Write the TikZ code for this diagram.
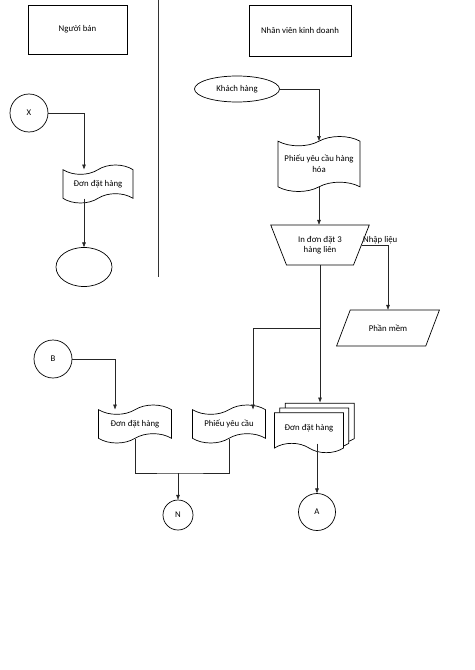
\documentclass[tikz,border=0pt]{standalone}
\usepackage{fontspec}
\setmainfont{Carlito}
\usetikzlibrary{arrows.meta,shapes.geometric,shapes.symbols,shadows}

\begin{document}
\begin{tikzpicture}[x=0.03cm,y=-0.03cm,
  font=\fontsize{7.5}{9}\selectfont,
  >={Triangle[length=4pt,width=3pt]},
  lanebox/.style={draw,line width=0.6pt,minimum width=29.7mm,minimum height=14.7mm},
  conn/.style={circle,draw,line width=0.6pt,minimum size=11.4mm,inner sep=0pt},
  tapedoc/.style={tape,draw,line width=0.6pt,fill=white,align=center,
    minimum width=21.9mm,minimum height=11.4mm,tape bend height=2.8mm},
  flow/.style={line width=0.4pt,black!85}]
\useasboundingbox (0,0) rectangle (474,670);
\draw[line width=0.5pt,black!80] (158,0) -- (158,277);
% lanes
\node[lanebox] (seller) at (77.5,29.5) {Người bán};
\node[lanebox,minimum width=30.6mm,minimum height=15.3mm] (staff) at (300,30.5) {Nhân viên kinh doanh};
% left lane
\node[conn] (xconn) at (29,113) {X};
\node[tapedoc,minimum width=21mm] (order1) at (98,184) {Đơn đặt hàng};
\node[ellipse,draw,line width=0.6pt,minimum width=16.8mm,minimum height=11.7mm,inner sep=0pt] (endstate) at (84,267) {};
% right lane
\node[ellipse,draw,line width=0.6pt,minimum width=25.5mm,minimum height=7.8mm,inner sep=0pt] (customer) at (237,89) {Khách hàng};
\node[tapedoc,minimum width=24.6mm,minimum height=16.5mm] (request) at (319,164) {Phiếu yêu cầu hàng\\hóa};
\node[trapezium,draw,line width=0.6pt,fill=white,align=center,trapezium left angle=65,trapezium right angle=65,
  shape border rotate=180,trapezium stretches=true,minimum width=29.7mm,minimum height=12mm] (printing) at (320,245) {In đơn đặt 3\\hàng liên};
\node[trapezium,draw,line width=0.6pt,trapezium left angle=60,trapezium right angle=120,
  trapezium stretches=true,minimum width=30.9mm,minimum height=10.8mm] (software) at (388,328) {Phần mềm};
% bottom
\node[conn] (bconn) at (53,359) {B};
\node[tapedoc] (order2) at (135,424) {Đơn đặt hàng};
\node[tapedoc] (request2) at (229,424) {Phiếu yêu cầu};
\node[conn,minimum size=9mm] (nconn) at (178,515) {N};
\node[tapedoc,tape bend top=none,tape bend bottom=out and in,minimum width=20.7mm,minimum height=12mm,
  double copy shadow={shadow xshift=1.6mm,shadow yshift=1.4mm}] (orders) at (309,428) {Đơn đặt hàng};
\node[conn,minimum size=11.1mm] (aconn) at (317,512) {A};
\coordinate (mtop) at ([yshift=3mm]orders.north);
\coordinate (split) at (printing.south |- software.west);
\coordinate (join) at (178,473);
% connectors
\draw[flow,->] (xconn.east) -| (order1.north -| endstate.north);
\draw[flow,->] (order1.south -| endstate.north) -- (endstate.north);
\draw[flow,->] (customer.east) -| (request.north);
\draw[flow,->] (request.south) -- (request.south |- printing.north);
\draw[flow,->] (printing.east) -| node[pos=0,anchor=south west,inner sep=1pt,black]{Nhập liệu} (software.north);
\draw[flow,->] (printing.south) -- (printing.south |- mtop);
\draw[flow,->] (split) -| ([xshift=7.2mm]request2.north);
\draw[flow,->] (bconn.east) -| ([xshift=-6mm]order2.north);
\draw[flow] (order2.south) |- (join) -| (request2.south);
\draw[flow,->] (join) -- (nconn.north);
\draw[flow,->] (orders.south -| aconn.north) -- (aconn.north);
\end{tikzpicture}
\end{document}
